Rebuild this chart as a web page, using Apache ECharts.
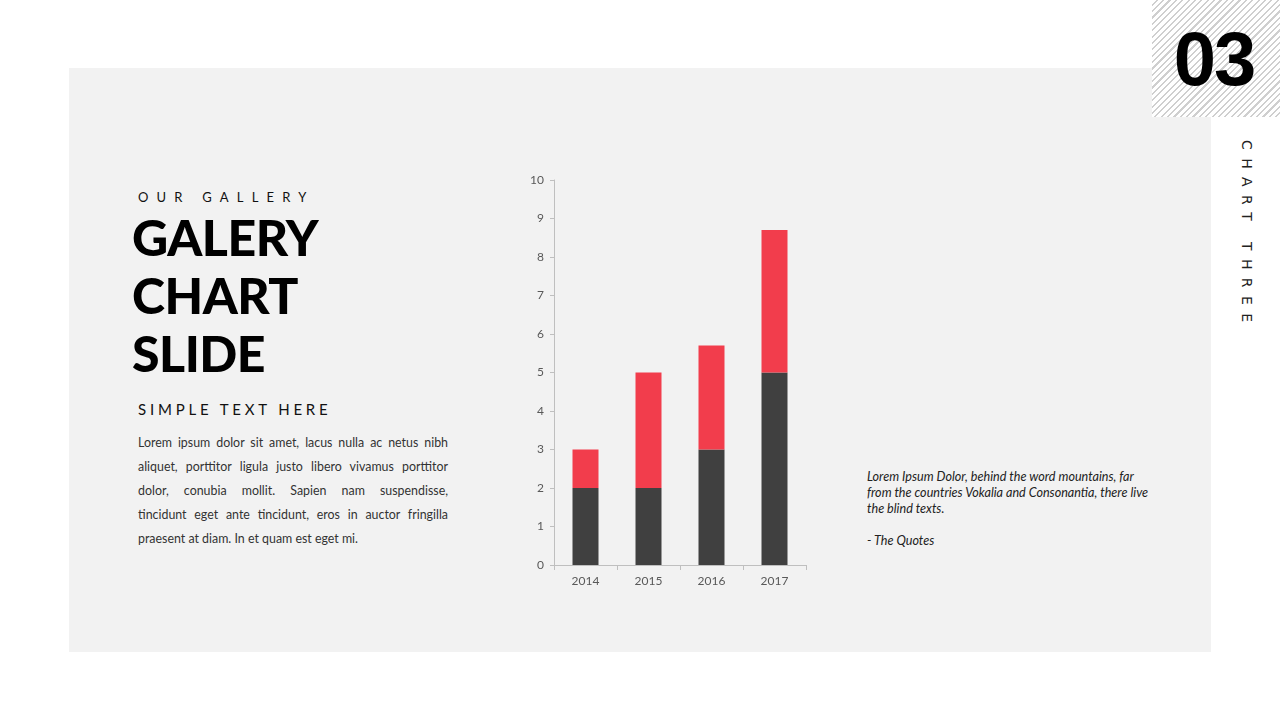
<!DOCTYPE html>
<html>
<head>
<meta charset="utf-8">
<script src="https://cdn.jsdelivr.net/npm/echarts@6/dist/echarts.min.js"></script>
<style>
  html, body { margin: 0; padding: 0; width: 1280px; height: 720px; background: #fff; overflow: hidden; font-family: Lato, sans-serif; }
  .panel { position: absolute; left: 69px; top: 68px; width: 1142px; height: 584px; background: #f2f2f2; }
  .hatch { position: absolute; left: 1152px; top: 0; width: 128px; height: 117px;
    background: repeating-linear-gradient(135deg, #ffffff 0px, #ffffff 3px, #cfcfcf 3px, #cfcfcf 4.5px); }
  .num { position: absolute; left: 1150px; top: 14px; width: 128px; text-align: center; font-family: "Liberation Sans", Arial, sans-serif; font-weight: bold; font-size: 76px; line-height: 90px; color: #000; letter-spacing: -2px; }
  .side { position: absolute; left: 1255px; top: 140px; transform-origin: 0 0; transform: rotate(90deg); font-size: 14px; letter-spacing: 8.4px; color: #222; white-space: nowrap; font-family: "DejaVu Sans", sans-serif; }
  .kicker { position: absolute; left: 138px; top: 189px; font-size: 13px; letter-spacing: 8.2px; color: #111; }
  .title { position: absolute; left: 132px; top: 208px; font-size: 50px; font-weight: 900; line-height: 58px; color: #000; letter-spacing: -0.5px; }
  .sub { position: absolute; left: 138px; top: 400px; font-size: 15px; letter-spacing: 3.8px; color: #111; }
  .para { position: absolute; left: 138px; top: 431px; width: 310px; font-size: 12.4px; line-height: 24px; color: #333; }
  .para div { text-align: justify; text-align-last: justify; white-space: nowrap; }
  .para div.last { text-align-last: left; }
  .quote { position: absolute; left: 867px; top: 469px; width: 320px; font-size: 12.6px; line-height: 16px; font-style: italic; color: #222; white-space: nowrap; }
  #chart { position: absolute; left: 0; top: 0; width: 1280px; height: 720px; }
</style>
</head>
<body>
<div class="panel"></div>
<div class="hatch"></div>
<div class="num">03</div>
<div class="side">CHART THREE</div>
<div class="kicker">OUR GALLERY</div>
<div class="title">GALERY<br>CHART<br>SLIDE</div>
<div class="sub">SIMPLE TEXT HERE</div>
<div class="para">
  <div>Lorem ipsum dolor sit amet, lacus nulla ac netus nibh</div>
  <div>aliquet, porttitor ligula justo libero vivamus porttitor</div>
  <div>dolor, conubia mollit. Sapien nam suspendisse,</div>
  <div>tincidunt eget ante tincidunt, eros in auctor fringilla</div>
  <div class="last">praesent at diam. In et quam est eget mi.</div>
</div>
<div class="quote">Lorem Ipsum Dolor, behind the word mountains, far<br>from the countries Vokalia and Consonantia, there live<br>the blind texts.<br><br>- The Quotes</div>
<div id="chart"></div>
<script>
// 数据
var years = ['2014', '2015', '2016', '2017'];
var darkValues = [2, 2, 3, 5];
var redValues = [1, 3, 2.7, 3.7];

var option = {
    animation: false,
    grid: {
        left: 554,
        top: 180,
        width: 252,
        height: 385
    },
    xAxis: {
        type: 'category',
        data: years,
        axisLine: { lineStyle: { color: '#bfbfbf' } },
        axisTick: { show: true, length: 5, lineStyle: { color: '#bfbfbf' } },
        axisLabel: { color: '#595959', fontFamily: 'Lato', fontSize: 12, margin: 10 }
    },
    yAxis: {
        type: 'value',
        min: 0,
        max: 10,
        interval: 1,
        axisLine: { show: true, lineStyle: { color: '#bfbfbf' } },
        axisTick: { show: true, length: 4, lineStyle: { color: '#bfbfbf' } },
        splitLine: { show: false },
        axisLabel: { color: '#595959', fontFamily: 'Lato', fontSize: 12, margin: 10 }
    },
    series: [{
        name: 'dark',
        type: 'bar',
        stack: 'total',
        barWidth: 26,
        itemStyle: { color: '#404040' },
        data: darkValues
    }, {
        name: 'red',
        type: 'bar',
        stack: 'total',
        barWidth: 26,
        itemStyle: { color: '#f23d4c' },
        data: redValues
    }]
};

var myChart = echarts.init(document.getElementById('chart'));
myChart.setOption(option);
</script>
</body>
</html>
